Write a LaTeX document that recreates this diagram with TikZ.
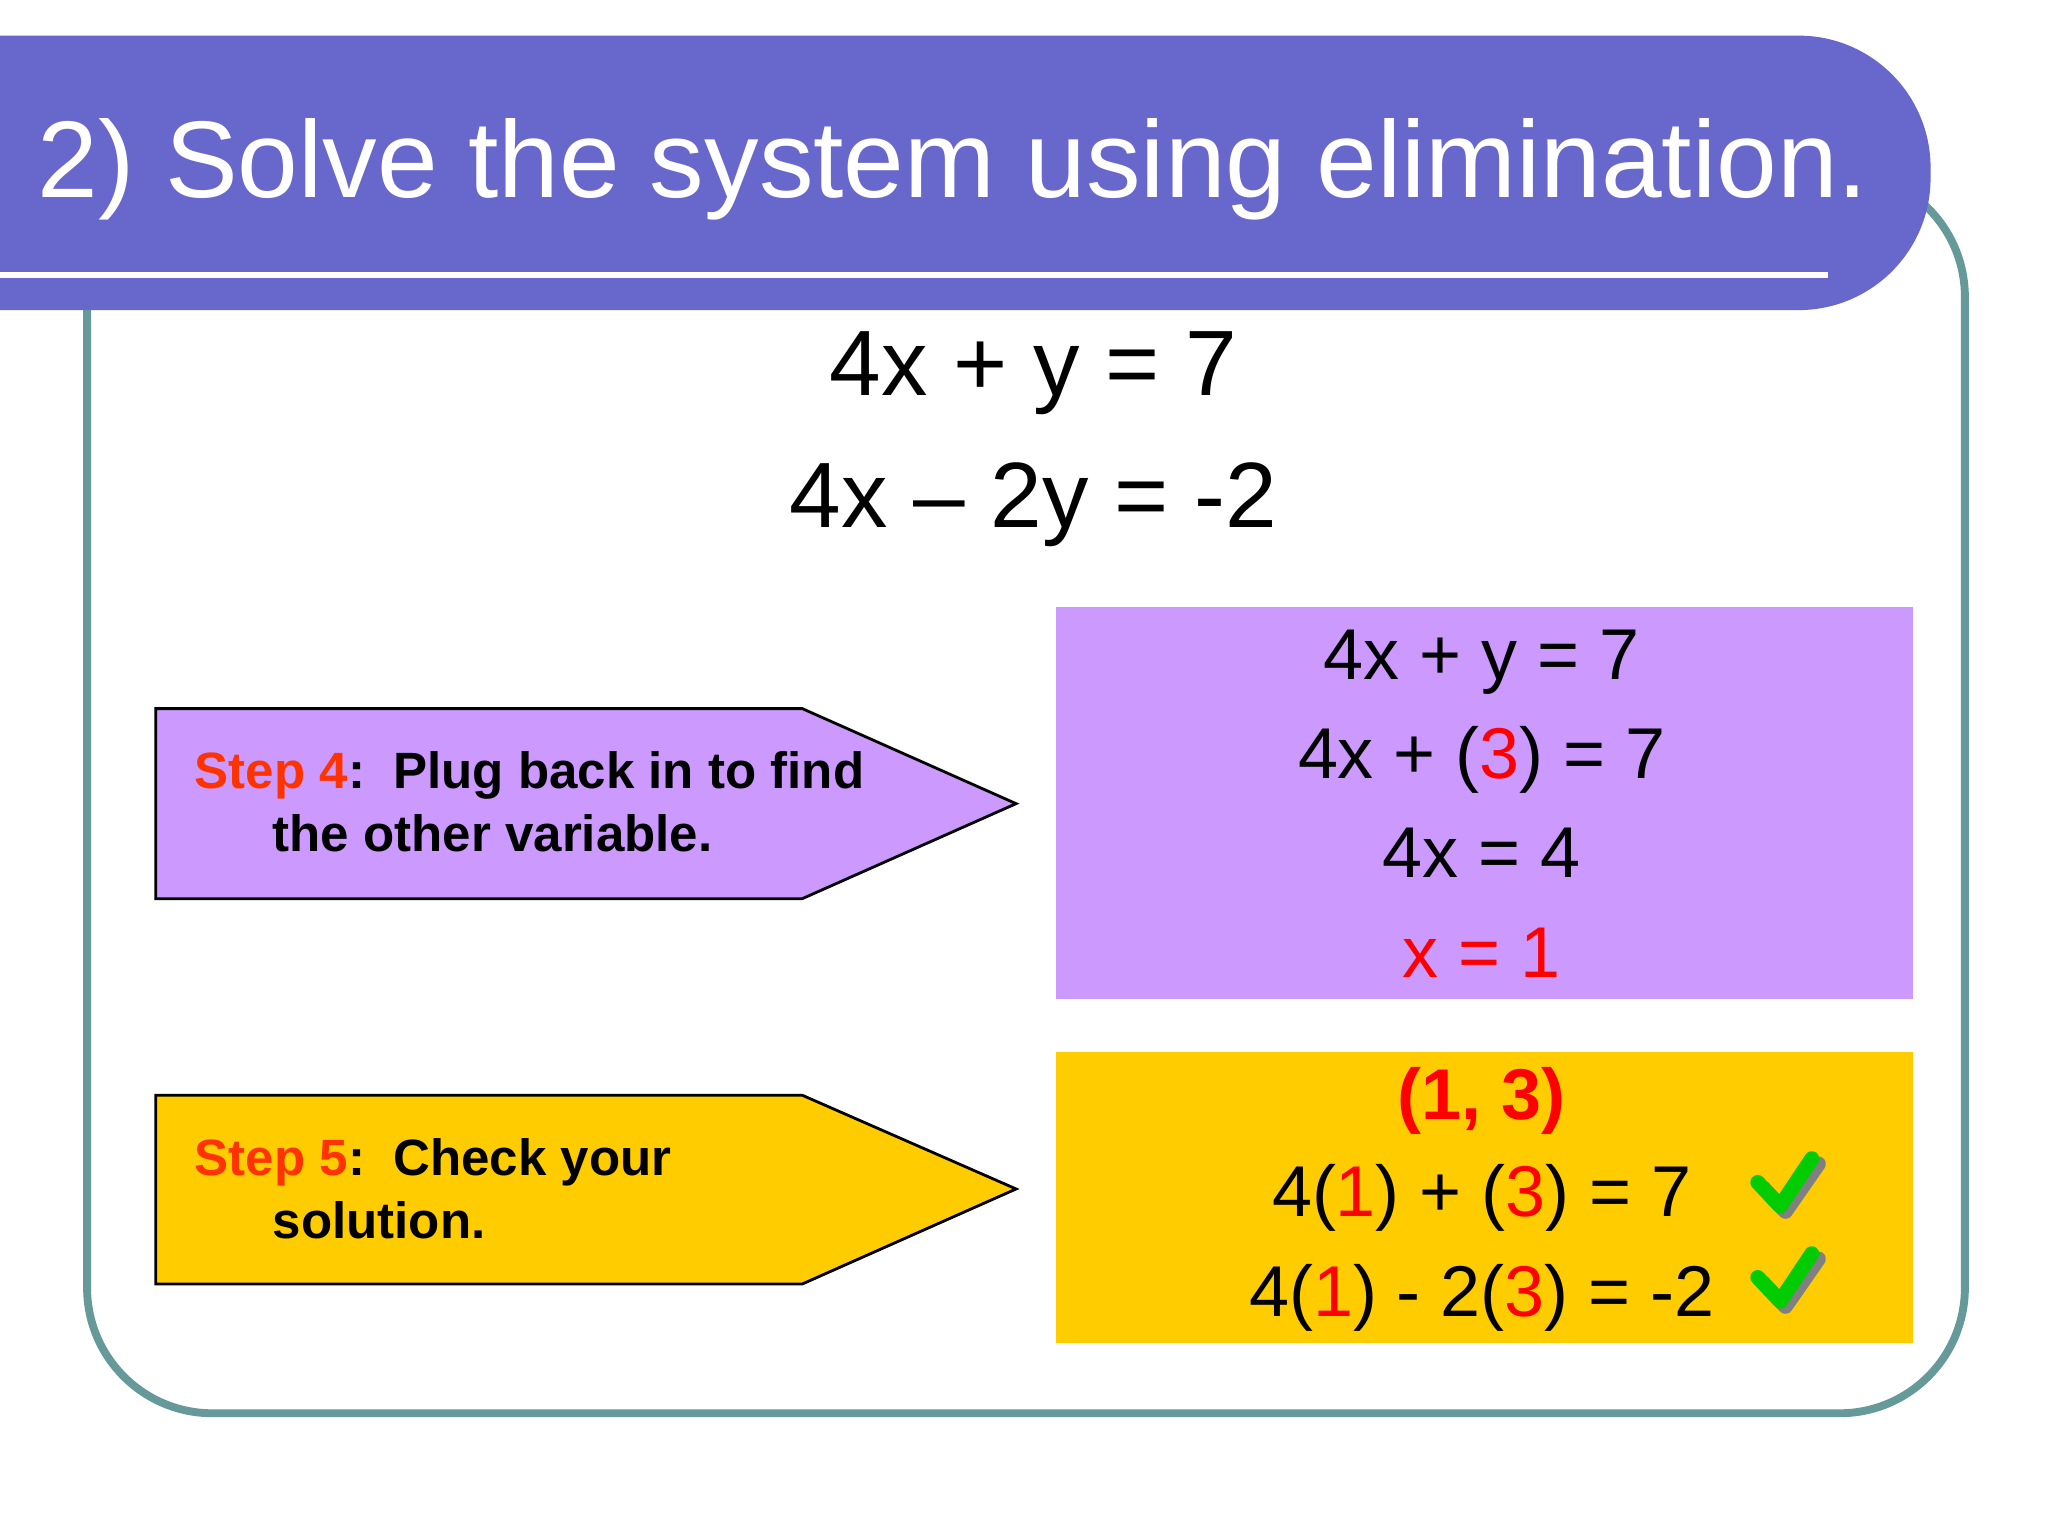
\documentclass[tikz,border=0pt]{standalone}
\usepackage{fontspec}
\setmainfont{Liberation Sans}
\begin{document}
\begin{tikzpicture}[x=0.01cm,y=-0.01cm,
  eq/.style={font=\fontsize{15.5pt}{18pt}\selectfont,anchor=base},
  big/.style={font=\fontsize{20pt}{24pt}\selectfont,anchor=base},
  steptxt/.style={font=\bfseries\fontsize{11pt}{13.5pt}\selectfont,align=left,anchor=north west,inner sep=0},
  tick/.style={line width=3.2pt,line cap=round,line join=round}]
\definecolor{banner}{RGB}{104,104,204}
\definecolor{frame}{RGB}{102,153,153}
\definecolor{lilac}{RGB}{204,153,255}
\definecolor{gold}{RGB}{255,204,0}
\definecolor{stepred}{RGB}{255,51,0}
\definecolor{okgreen}{RGB}{0,204,0}
\useasboundingbox (0,0) rectangle (1552,1164);
\fill[white] (0,0) rectangle (1552,1164);
\draw[frame,line width=1.7pt,rounded corners=0.95cm] (66,130) rectangle (1489,1071);
\fill[banner,rounded corners=1cm] (-120,27) rectangle (1463,235);
\fill[white] (0,206) rectangle (1385,211);
\node[anchor=base west,text=white,font=\fontsize{23.5pt}{28pt}\selectfont,inner sep=0] (title) at (28,150) {2) Solve the system using elimination.};
\node[big] (e1) at (783,300) {4x + y = 7};
\node[big] (e2) at (783,400) {4x – 2y = -2};
% step 4
\draw[fill=lilac,line width=0.6pt] (118,537) -- (608,537) -- (770,609) -- (608,681) -- (118,681) -- cycle;
\node[steptxt] (s4) at (147,569) {\textcolor{stepred}{Step 4}:\ \ Plug back in to find\\\hspace*{0.59cm}the other variable.};
\fill[lilac] (800,460) rectangle (1450,757);
\node[eq] (a1) at (1123,515) {4x + y = 7};
\node[eq] (a2) at (1123,590) {4x + (\textcolor{red}{3}) = 7};
\node[eq] (a3) at (1123,665) {4x = 4};
\node[eq,text=red] (a4) at (1123,741) {x = 1};
% step 5
\draw[fill=gold,line width=0.6pt] (118,830) -- (608,830) -- (770,901) -- (608,973) -- (118,973) -- cycle;
\node[steptxt] (s5) at (147,862) {\textcolor{stepred}{Step 5}:\ \ Check your\\\hspace*{0.59cm}solution.};
\fill[gold] (800,797) rectangle (1450,1018);
\node[eq,text=red,font=\bfseries\fontsize{15.5pt}{18pt}\selectfont] (b1) at (1123,848) {(1, 3)};
\node[eq] (b2) at (1123,922) {4(\textcolor{red}{1}) + (\textcolor{red}{3}) = 7};
\node[eq] (b3) at (1123,998) {4(\textcolor{red}{1}) - 2(\textcolor{red}{3}) = -2};
\foreach \yy in {0,72}{
  \draw[tick,gray] (1336,900+\yy) -- (1353,918+\yy) -- (1378,882+\yy);
  \draw[tick,okgreen] (1332,896+\yy) -- (1349,914+\yy) -- (1373,878+\yy);
}
\end{tikzpicture}
\end{document}
